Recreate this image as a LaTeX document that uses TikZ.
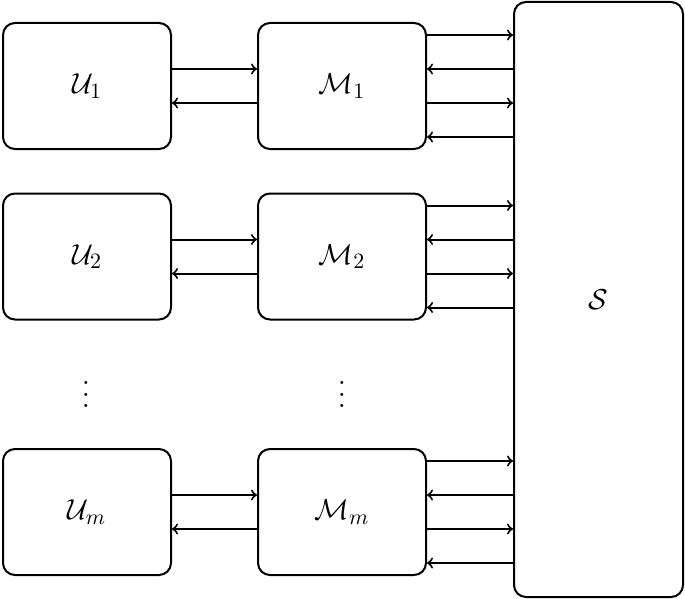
\documentclass[tikz,border=0pt]{standalone}
\usetikzlibrary{calc}
\begin{document}
\begin{tikzpicture}[x=0.5pt,y=-0.5pt,
  blk/.style={draw,line width=1pt,rounded corners=6pt,minimum width=84pt,minimum height=63pt,inner sep=0pt,font=\fontsize{15}{18}\selectfont},
  conn/.style={->,line width=1pt},
  dotsty/.style={inner sep=0pt,scale=1.45}]
\useasboundingbox (0,0) rectangle (685,599);
\node[draw,line width=1pt,rounded corners=6pt,minimum width=84.5pt,minimum height=297.5pt,inner sep=0pt,font=\fontsize{15}{18}\selectfont] (S) at (598.5,299.5) {$\mathcal{S}$};
\foreach \i/\y/\lab in {1/86/1,2/256.5/2,3/512/m}{
  \node[blk] (U\i) at (87,\y) {$\mathcal{U}_{\lab}$};
  \node[blk] (M\i) at (342,\y) {$\mathcal{M}_{\lab}$};
  \draw[conn] ([yshift=8.5pt]U\i.east) -- ([yshift=8.5pt]M\i.west);
  \draw[conn] ([yshift=-8.5pt]M\i.west) -- ([yshift=-8.5pt]U\i.east);
  \coordinate (a\i) at ([yshift=25.5pt]M\i.east);
  \coordinate (b\i) at ([yshift=8.5pt]M\i.east);
  \coordinate (c\i) at ([yshift=-8.5pt]M\i.east);
  \coordinate (d\i) at ([yshift=-25.5pt]M\i.east);
  \draw[conn] (a\i) -- (a\i -| S.west);
  \draw[conn] (b\i -| S.west) -- (b\i);
  \draw[conn] (c\i) -- (c\i -| S.west);
  \draw[conn] (d\i -| S.west) -- (d\i);
}
\node[dotsty] (dU) at (86,386) {$\vdots$};
\node[dotsty] (dM) at (342,386) {$\vdots$};
\end{tikzpicture}
\end{document}
